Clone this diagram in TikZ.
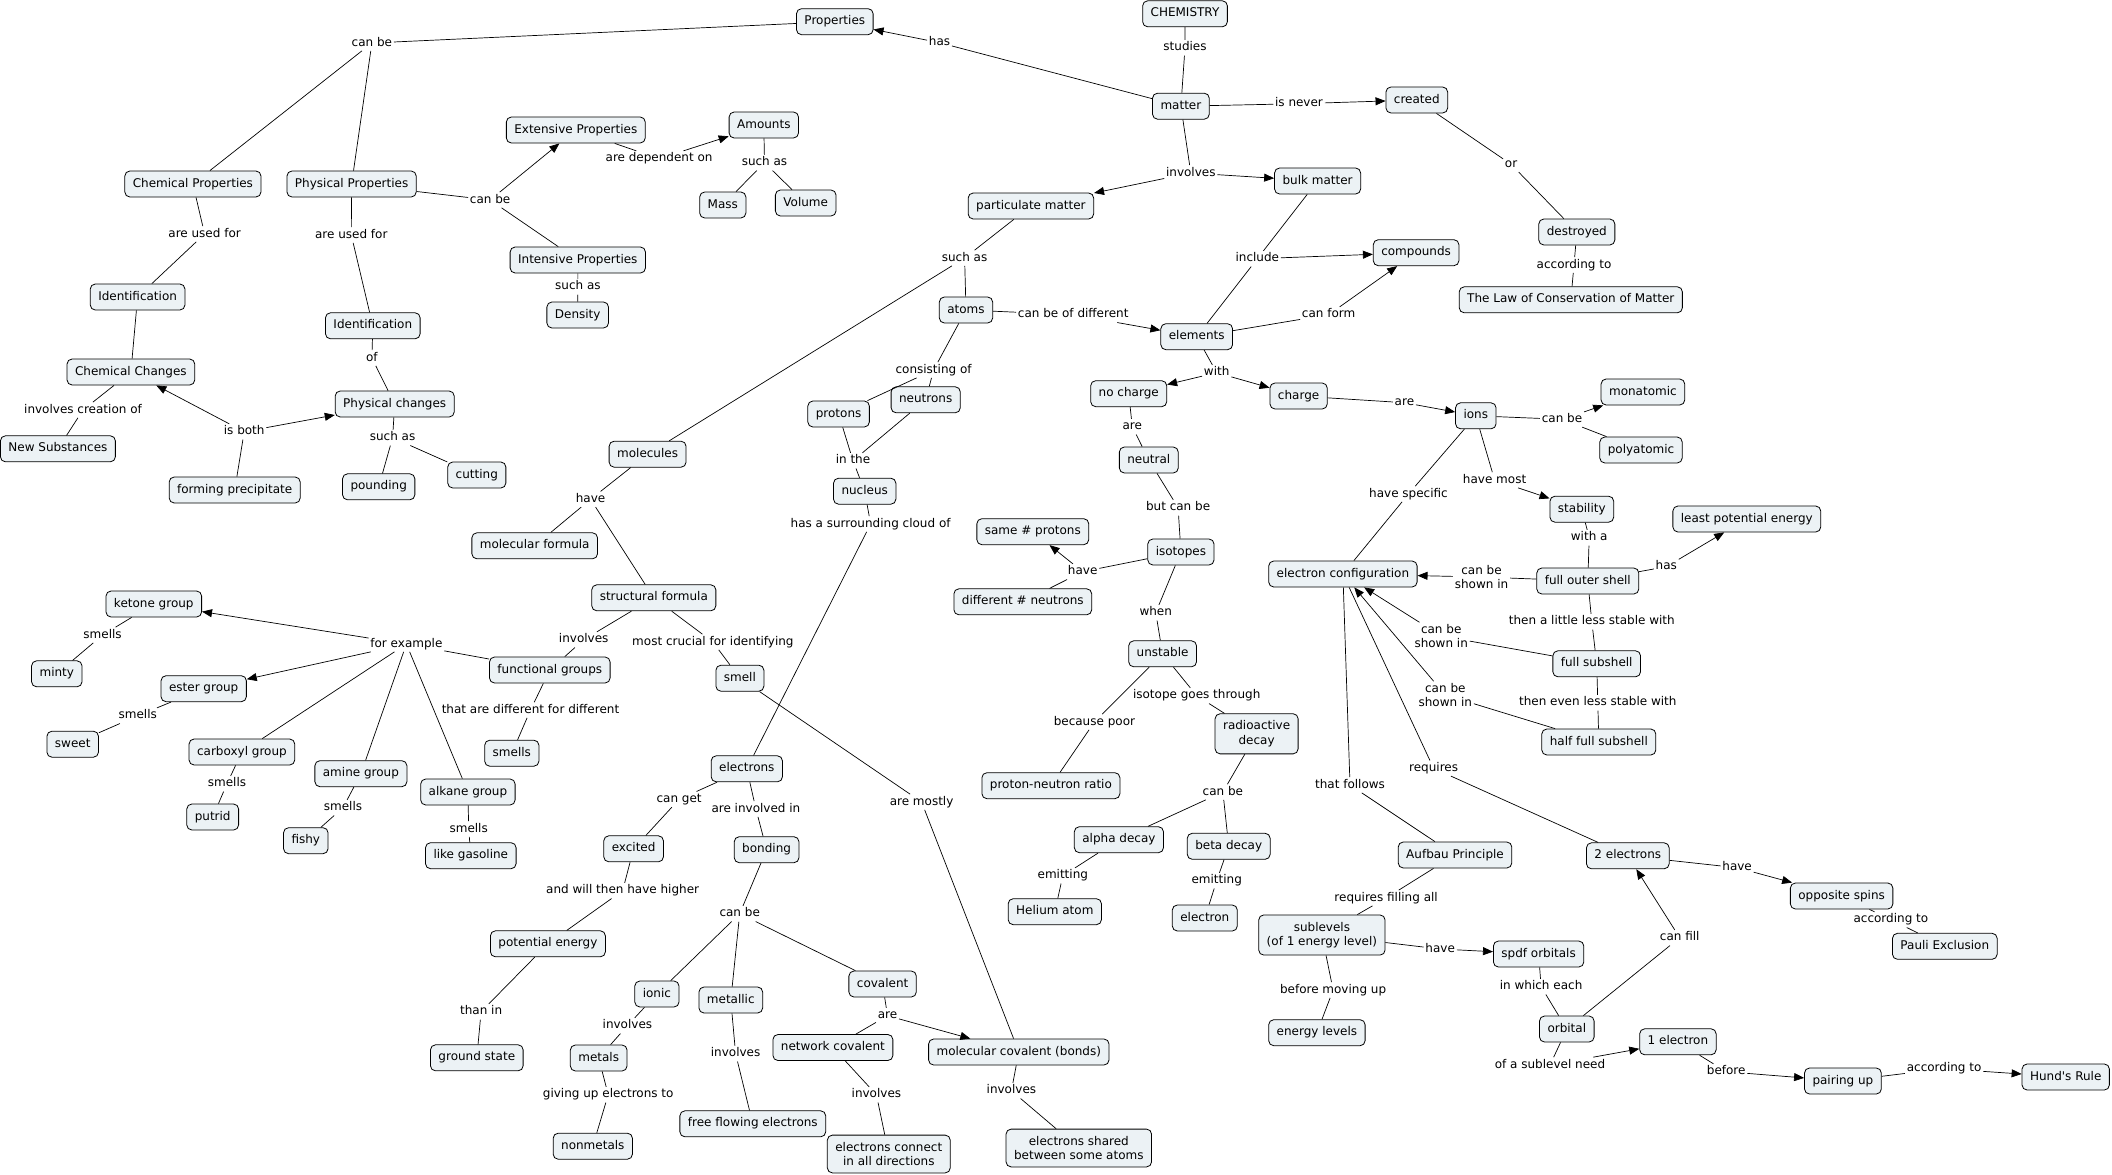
\documentclass[tikz,border=0pt]{standalone}
\usepackage{fontspec}
\setmainfont{DejaVu Sans}
\usetikzlibrary{arrows.meta}
\definecolor{boxfill}{RGB}{236,242,245}
\tikzset{>={Triangle[length=10pt,width=8pt]}}
\tikzset{
  concept/.style={draw, rounded corners=5pt, fill=boxfill, line width=0.8pt,
    inner xsep=8pt, inner ysep=7pt, minimum height=26pt,
    text height=9pt, text depth=3pt, font=\fontsize{12}{14.5}\selectfont},
  conceptii/.style={draw, rounded corners=5pt, fill=boxfill, line width=0.8pt,
    inner xsep=8pt, inner ysep=7pt, align=center, font=\fontsize{12}{14.5}\selectfont},
  phrase/.style={inner sep=1.5pt, text height=9pt, text depth=3pt,
    font=\fontsize{12}{14.5}\selectfont},
  phraseii/.style={inner sep=1.5pt, align=center, font=\fontsize{12}{14.5}\selectfont},
}

\begin{document}
\begin{tikzpicture}[x=1pt, y=-1pt, line width=0.7pt]
\useasboundingbox (0,0) rectangle (2112,1175);

% top: chemistry and matter
\node [concept] (chem) at (1185,13.8) {CHEMISTRY};
\node [phrase] (studies) at (1185,47.7) {studies};
\node [concept] (matter) at (1180.9,106.2) {matter};
\node [phrase] (hasA) at (939.5,42.7) {has};
\node [concept] (props) at (834.8,21.7) {Properties};
\node [phrase] (never) at (1299,103.7) {is never};
\node [concept] (created) at (1416.8,100) {created};
\node [phrase] (orA) at (1511.1,164.3) {or};
\node [concept] (destroyed) at (1576.8,232) {destroyed};
\node [phrase] (accA) at (1574,265) {according to};
\node [concept] (law) at (1570.8,299.8) {The Law of Conservation of Matter};
\node [phrase] (involvesA) at (1190.8,173) {involves};
\node [concept] (partmat) at (1030.9,206) {particulate matter};
\node [concept] (bulk) at (1317.6,181) {bulk matter};
\node [phrase] (include) at (1257.3,258.7) {include};
\node [concept] (compounds) at (1416.1,252.7) {compounds};
\node [concept] (elements) at (1196.7,336.7) {elements};
\node [phrase] (canform) at (1328.6,314.7) {can form};

% properties
\node [phrase] (canbeA) at (371.9,43) {can be};
\node [concept] (chemprops) at (192.9,184) {Chemical Properties};
\node [concept] (physprops) at (351.6,184) {Physical Properties};
\node [phrase] (usedA) at (204.6,234) {are used for};
\node [phrase] (usedB) at (351.3,235) {are used for};
\node [concept] (identA) at (137.6,297) {Identification};
\node [concept] (identB) at (372.8,325.8) {Identification};
\node [phrase] (ofA) at (371.9,358) {of};
\node [concept] (chemchg) at (130.9,372) {Chemical Changes};
\node [phrase] (canbeB) at (490.1,200) {can be};
\node [concept] (extprops) at (575.8,130) {Extensive Properties};
\node [concept] (intprops) at (577.8,260) {Intensive Properties};
\node [phrase] (depon) at (659.1,158.7) {are dependent on};
\node [concept] (amounts) at (763.8,125) {Amounts};
\node [phrase] (suchasA) at (764.5,162.7) {such as};
\node [concept] (mass) at (722.8,205) {Mass};
\node [concept] (volume) at (805.7,203) {Volume};
\node [phrase] (suchasB) at (577.9,286.7) {such as};
\node [concept] (density) at (577.7,315) {Density};
\node [phrase] (creation) at (83,410) {involves creation of};
\node [concept] (newsub) at (57.9,448.8) {New Substances};
\node [phrase] (isboth) at (244.2,431.7) {is both};
\node [concept] (precip) at (234.7,490) {forming precipitate};
\node [concept] (physchg) at (394.7,404) {Physical changes};
\node [phrase] (suchasD) at (392.6,437.7) {such as};
\node [concept] (pounding) at (378.7,486.8) {pounding};
\node [concept] (cutting) at (476.8,475) {cutting};

% atoms
\node [phrase] (suchasC) at (964.6,258) {such as};
\node [concept] (atoms) at (966,310) {atoms};
\node [phrase] (ofdiff) at (1073.2,314.7) {can be of different};
\node [phrase] (consist) at (933.6,370) {consisting of};
\node [concept] (protons) at (838.6,414) {protons};
\node [concept] (neutrons) at (925.7,399.8) {neutrons};
\node [phrase] (inthe) at (853,460.7) {in the};
\node [concept] (nucleus) at (864.7,491.2) {nucleus};
\node [phrase] (cloud) at (870.6,524) {has a surrounding cloud of};
\node [concept] (electrons) at (746.8,768.8) {electrons};

% elements, isotopes, decay
\node [phrase] (with) at (1216.7,372.7) {with};
\node [concept] (nocharge) at (1128.7,393.7) {no charge};
\node [concept] (charge) at (1298.6,396) {charge};
\node [phrase] (areA) at (1132.3,426.7) {are};
\node [concept] (neutral) at (1148.8,460) {neutral};
\node [phrase] (butcan) at (1178.1,507.7) {but can be};
\node [concept] (isotopes) at (1180.9,552) {isotopes};
\node [phrase] (haveA) at (1082.7,571.7) {have};
\node [concept] (sameprot) at (1032.8,531.7) {same \# protons};
\node [concept] (diffneut) at (1022.8,601.8) {different \# neutrons};
\node [phrase] (when) at (1155.7,612.7) {when};
\node [concept] (unstable) at (1162.6,653.8) {unstable};
\node [phrase] (goes) at (1196.7,695.7) {isotope goes through};
\node [phrase] (poor) at (1094.4,722) {because poor};
\node [conceptii] (radio) at (1256.6,733.8) {radioactive\\decay};
\node [concept] (ratio) at (1050.9,785.7) {proton-neutron ratio};
\node [phrase] (canbeC) at (1222.9,792) {can be};
\node [concept] (alpha) at (1118.9,839.7) {alpha decay};
\node [concept] (beta) at (1228.7,846.3) {beta decay};
\node [phrase] (emitA) at (1062.8,875.7) {emitting};
\node [concept] (helium) at (1054.8,911.7) {Helium atom};
\node [phrase] (emitB) at (1216.7,880.7) {emitting};
\node [concept] (electron) at (1204.8,918) {electron};

% ions and electron configuration
\node [phrase] (areB) at (1404.4,402.7) {are};
\node [concept] (ions) at (1475.8,415.8) {ions};
\node [phrase] (canbeD) at (1562,419.3) {can be};
\node [concept] (monatomic) at (1642.9,392) {monatomic};
\node [concept] (polyatomic) at (1641,450) {polyatomic};
\node [concept] (econf) at (1342.9,574) {electron configuration};
\node [phrase] (specific) at (1408.5,494) {have specific};
\node [phrase] (most) at (1494.6,480) {have most};
\node [concept] (stability) at (1581.8,509.2) {stability};
\node [phrase] (witha) at (1589.2,537.7) {with a};
\node [concept] (leastpe) at (1746.8,519) {least potential energy};
\node [phrase] (hasB) at (1666.3,566.7) {has};
\node [concept] (outer) at (1587.8,581) {full outer shell};
\node [phraseii] (shownA) at (1481.5,577) {can be\\shown in};
\node [phrase] (little) at (1591.8,621.7) {then a little less stable with};
\node [concept] (subshell) at (1596.7,663.8) {full subshell};
\node [phraseii] (shownB) at (1441.2,636) {can be\\shown in};
\node [phrase] (evenless) at (1597.8,702.7) {then even less stable with};
\node [concept] (halfsub) at (1598.8,742) {half full subshell};
\node [phraseii] (shownC) at (1445.3,695) {can be\\shown in};
\node [phrase] (requires) at (1433.6,768.3) {requires};
\node [phrase] (follows) at (1350,785) {that follows};
\node [concept] (aufbau) at (1455,855) {Aufbau Principle};
\node [phrase] (filling) at (1386.1,898) {requires filling all};
\node [conceptii] (sublevels) at (1321.9,935) {sublevels\\(of 1 energy level)};
\node [phrase] (haveB) at (1440.2,949) {have};
\node [concept] (spdf) at (1538.6,954) {spdf orbitals};
\node [phrase] (moving) at (1333.1,990) {before moving up};
\node [concept] (energy) at (1316.9,1032.7) {energy levels};
\node [phrase] (each) at (1541.1,986.7) {in which each};
\node [concept] (orbital) at (1566.8,1029) {orbital};
\node [phrase] (need) at (1550,1065) {of a sublevel need};
\node [concept] (twoel) at (1627.8,855.8) {2 electrons};
\node [phrase] (haveC) at (1737.1,867.7) {have};
\node [concept] (spins) at (1841.6,896) {opposite spins};
\node [phrase] (accB) at (1890.9,919.7) {according to};
\node [concept] (pauli) at (1944.8,946.3) {Pauli Exclusion};
\node [phrase] (canfill) at (1679.7,937.7) {can fill};
\node [concept] (oneel) at (1677.9,1041.8) {1 electron};
\node [phrase] (before) at (1726.2,1071.7) {before};
\node [concept] (pairing) at (1842.9,1081) {pairing up};
\node [phrase] (accC) at (1944.1,1068.7) {according to};
\node [concept] (hund) at (2065.7,1077) {Hund\textquotesingle s Rule};

% molecules and functional groups
\node [concept] (molecules) at (647.6,454.2) {molecules};
\node [phrase] (haveD) at (590.6,499.3) {have};
\node [concept] (molform) at (534.7,545.8) {molecular formula};
\node [concept] (structf) at (653.8,597.8) {structural formula};
\node [phrase] (involvesB) at (583.7,639.7) {involves};
\node [phrase] (crucial) at (712.9,642) {most crucial for identifying};
\node [concept] (smell) at (739.9,678.2) {smell};
\node [concept] (funcgrp) at (549.8,670) {functional groups};
\node [phrase] (differ) at (530.5,710) {that are different for different};
\node [concept] (smellsF) at (511.8,753.2) {smells};
\node [phrase] (example) at (406.4,644) {for example};
\node [concept] (ketone) at (153.8,604) {ketone group};
\node [phrase] (smellsA) at (102.6,635) {smells};
\node [concept] (minty) at (56.8,673.8) {minty};
\node [concept] (ester) at (203.7,688.7) {ester group};
\node [phrase] (smellsB) at (137.8,715.7) {smells};
\node [concept] (sweet) at (72.7,744.2) {sweet};
\node [concept] (carboxyl) at (241.9,752) {carboxyl group};
\node [phrase] (smellsC) at (227,783.7) {smells};
\node [concept] (putrid) at (212.7,817) {putrid};
\node [concept] (amine) at (360.9,773.7) {amine group};
\node [phrase] (smellsD) at (343,807.7) {smells};
\node [concept] (fishy) at (305.8,840.7) {fishy};
\node [concept] (alkane) at (467.9,792) {alkane group};
\node [phrase] (smellsE) at (468.7,829) {smells};
\node [concept] (gasoline) at (470.8,855.7) {like gasoline};

% electrons and bonding
\node [phrase] (canget) at (679.1,799.3) {can get};
\node [phrase] (invin) at (755.9,809) {are involved in};
\node [phrase] (mostly) at (921.6,802) {are mostly};
\node [concept] (excited) at (633.6,848.8) {excited};
\node [concept] (bonding) at (766.6,849.7) {bonding};
\node [phrase] (higher) at (622.6,890.7) {and will then have higher};
\node [concept] (potential) at (547.9,943.8) {potential energy};
\node [phrase] (thanin) at (481.1,1011.7) {than in};
\node [concept] (ground) at (476.8,1057.8) {ground state};
\node [phrase] (canbeE) at (739.7,913.7) {can be};
\node [concept] (ionic) at (656.9,994) {ionic};
\node [concept] (metallic) at (730.8,1000) {metallic};
\node [concept] (covalent) at (882.6,984) {covalent};
\node [phrase] (involvesC) at (627.4,1025.7) {involves};
\node [concept] (metals) at (598.7,1058) {metals};
\node [phrase] (giving) at (608.2,1094.7) {giving up electrons to};
\node [concept] (nonmetals) at (592.8,1146.2) {nonmetals};
\node [phrase] (involvesD) at (735.6,1053.7) {involves};
\node [concept] (freeflow) at (752.8,1123.8) {free flowing electrons};
\node [phrase] (areC) at (887.5,1015.7) {are};
\node [concept] (network) at (832.9,1047.5) {network covalent};
\node [concept] (molcov) at (1018.8,1052) {molecular covalent (bonds)};
\node [phrase] (involvesE) at (876.4,1094.7) {involves};
\node [conceptii] (connect) at (888.8,1154) {electrons connect\\in all directions};
\node [phrase] (involvesF) at (1011.4,1090.7) {involves};
\node [conceptii] (shared) at (1078.8,1148) {electrons shared\\between some atoms};

% connectors with arrows
\draw [->] (matter) -- (hasA) -- (props);
\draw [->] (matter) -- (never) -- (created);
\draw [->] (matter) -- (involvesA) -- (partmat);
\draw [->] (involvesA) -- (bulk);
\draw [->] (include) -- (compounds);
\draw [->] (elements) -- (canform) -- (compounds);
\draw [->] (atoms) -- (ofdiff) -- (elements);
\draw [->] (with) -- (nocharge);
\draw [->] (with) -- (charge);
\draw [->] (charge) -- (areB) -- (ions);
\draw [->] (ions) -- (canbeD) -- (monatomic);
\draw [->] (ions) -- (most) -- (stability);
\draw [->] (outer) -- (hasB) -- (leastpe);
\draw [->] (outer) -- (shownA) -- (econf);
\draw [->] (subshell) -- (shownB) -- (econf);
\draw [->] (halfsub) -- (shownC) -- (econf);
\draw [->] (haveA) -- (sameprot);
\draw [->] (sublevels) -- (haveB) -- (spdf);
\draw [->] (orbital) -- (canfill) -- (twoel);
\draw [->] (orbital) -- (need) -- (oneel);
\draw [->] (twoel) -- (haveC) -- (spins);
\draw [->] (oneel) -- (before) -- (pairing);
\draw [->] (pairing) -- (accC) -- (hund);
\draw [->] (physprops) -- (canbeB) -- (extprops);
\draw [->] (extprops) -- (depon) -- (amounts);
\draw [->] (precip) -- (isboth) -- (chemchg);
\draw [->] (isboth) -- (physchg);
\draw [->] (funcgrp) -- (example) -- (ketone);
\draw [->] (example) -- (ester);
\draw [->] (covalent) -- (areC) -- (molcov);

% plain connectors
\draw (props) -- (canbeA) -- (chemprops);
\draw (canbeA) -- (physprops);
\draw (chem) -- (studies) -- (matter);
\draw (created) -- (orA) -- (destroyed) -- (accA) -- (law);
\draw (bulk) -- (include) -- (elements);
\draw (partmat) -- (suchasC) -- (atoms);
\draw (suchasC) -- (molecules);
\draw (atoms) -- (consist) -- (protons);
\draw (consist) -- (neutrons);
\draw (protons) -- (inthe) -- (nucleus);
\draw (neutrons) -- (inthe);
\draw (nucleus) -- (cloud) -- (electrons);
\draw (elements) -- (with);
\draw (nocharge) -- (areA) -- (neutral) -- (butcan) -- (isotopes);
\draw (isotopes) -- (haveA) -- (diffneut);
\draw (isotopes) -- (when) -- (unstable) -- (poor) -- (ratio);
\draw (unstable) -- (goes) -- (radio) -- (canbeC) -- (alpha);
\draw (canbeC) -- (beta);
\draw (alpha) -- (emitA) -- (helium);
\draw (beta) -- (emitB) -- (electron);
\draw (canbeD) -- (polyatomic);
\draw (ions) -- (specific) -- (econf);
\draw (stability) -- (witha) -- (outer);
\draw (outer) -- (little) -- (subshell) -- (evenless) -- (halfsub);
\draw (econf) -- (follows) -- (aufbau);
\draw (econf) -- (requires) -- (twoel);
\draw (aufbau) -- (filling) -- (sublevels);
\draw (sublevels) -- (moving) -- (energy);
\draw (spdf) -- (each) -- (orbital);
\draw (spins) -- (accB) -- (pauli);
\draw (canbeB) -- (intprops);
\draw (amounts) -- (suchasA) -- (mass);
\draw (suchasA) -- (volume);
\draw (intprops) -- (suchasB) -- (density);
\draw (chemprops) -- (usedA) -- (identA) -- (chemchg);
\draw (physprops) -- (usedB) -- (identB) -- (ofA) -- (physchg);
\draw (chemchg) -- (creation) -- (newsub);
\draw (physchg) -- (suchasD) -- (pounding);
\draw (suchasD) -- (cutting);
\draw (molecules) -- (haveD) -- (molform);
\draw (haveD) -- (structf);
\draw (structf) -- (involvesB) -- (funcgrp);
\draw (structf) -- (crucial) -- (smell) -- (mostly) -- (molcov);
\draw (example) -- (carboxyl);
\draw (example) -- (amine);
\draw (example) -- (alkane);
\draw (funcgrp) -- (differ) -- (smellsF);
\draw (ketone) -- (smellsA) -- (minty);
\draw (ester) -- (smellsB) -- (sweet);
\draw (carboxyl) -- (smellsC) -- (putrid);
\draw (amine) -- (smellsD) -- (fishy);
\draw (alkane) -- (smellsE) -- (gasoline);
\draw (electrons) -- (canget) -- (excited) -- (higher) -- (potential) -- (thanin) -- (ground);
\draw (electrons) -- (invin) -- (bonding) -- (canbeE) -- (ionic);
\draw (canbeE) -- (metallic);
\draw (canbeE) -- (covalent);
\draw (ionic) -- (involvesC) -- (metals) -- (giving) -- (nonmetals);
\draw (metallic) -- (involvesD) -- (freeflow);
\draw (areC) -- (network);
\draw (network) -- (involvesE) -- (connect);
\draw (molcov) -- (involvesF) -- (shared);
\end{tikzpicture}
\end{document}
